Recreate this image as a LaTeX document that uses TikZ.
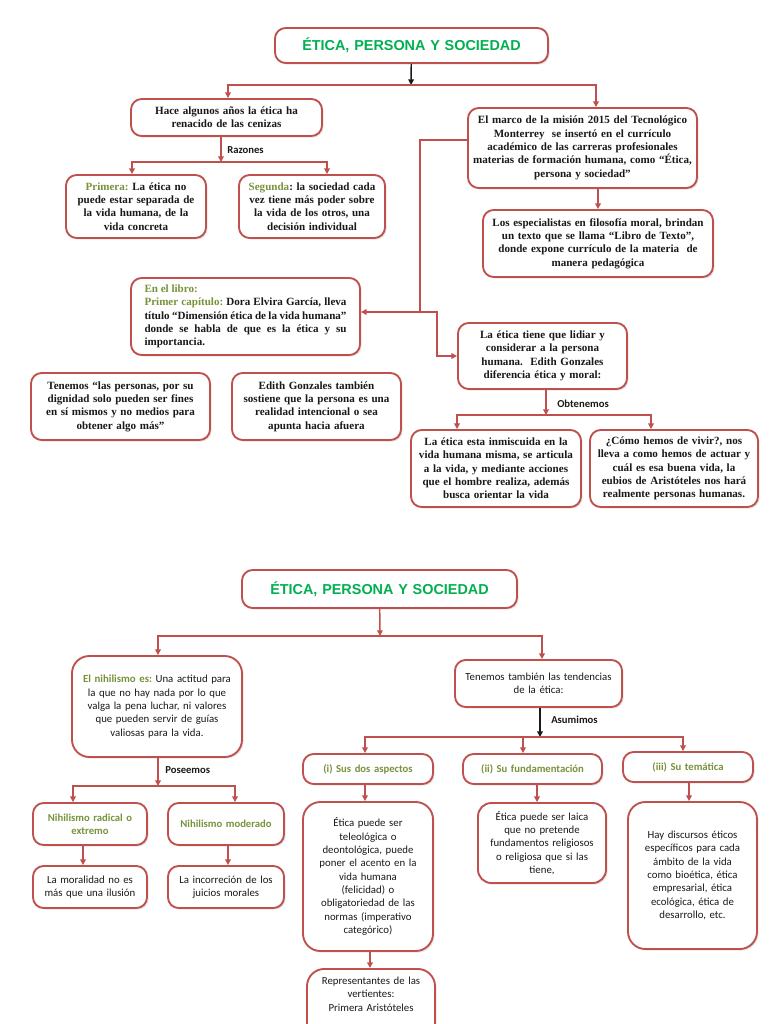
\documentclass[tikz,border=0pt]{standalone}
\usepackage{fontspec}
\setmainfont{Liberation Serif}
\newfontfamily\calib{Carlito}
\newfontfamily\arialf{Liberation Sans}
\usetikzlibrary{arrows.meta,shadows}
\definecolor{brd}{RGB}{192,80,77}
\definecolor{ttl}{RGB}{0,176,80}
\definecolor{olv}{RGB}{119,147,60}
\definecolor{ink}{RGB}{25,25,25}
\frenchspacing
\tikzset{
  spot/.style n args={4}{/utils/exec={\pgfmathsetlengthmacro\boxtw{(#3-#1-6)*0.75pt}},
    text width=\boxtw,minimum width={(#3-#1)*0.75pt},minimum height={(#4-#2)*0.75pt},
    at={({(#1+#3)/2},{(#2+#4)/2})}},
  box/.style={draw=brd,line width=1.4pt,rounded corners=8pt,fill=white,inner sep=0pt,
    align=center,text=ink,font=\fontsize{8.3}{10}\selectfont\bfseries,
    drop shadow={shadow xshift=1.2pt,shadow yshift=-1.2pt,opacity=0.2}},
  sbox/.style={box,font=\calib\fontsize{8.1}{10}\selectfont},
  big/.style={rounded corners=13pt},
  head/.style={box,font=\arialf\bfseries\fontsize{10.8}{13}\selectfont,text=ttl},
  tag/.style={sbox,font=\calib\bfseries\fontsize{8}{10}\selectfont,text=olv},
  con/.style={draw=brd,line width=1.1pt,-{Triangle[length=4.2pt,width=4.2pt]}},
  bar/.style={draw=brd,line width=1.1pt},
  blk/.style={con,draw=ink},
  lbl/.style={font=\calib\bfseries\fontsize{8}{10}\selectfont,text=ink,anchor=west,inner sep=0pt},
}
\newcommand{\hl}[1]{\textcolor{olv}{#1}}

\begin{document}
\begin{tikzpicture}[x=0.75pt,y=-0.75pt]
  \useasboundingbox[fill=white] (0,0) rectangle (768,1024);

  % first map
  \node[head,spot={275}{28}{548}{63}] (t1) {ÉTICA, PERSONA Y SOCIEDAD};
  \node[box,spot={131}{99}{322}{136}] (hace) {Hace algunos años la ética ha\\renacido de las cenizas};
  \node[box,spot={468}{108}{697}{188}] (marco)
    {El marco de la misión 2015 del Tecnológico\\Monterrey\ \ se insertó en el currículo\\académico de las carreras profesionales\\materias de formación humana, como “Ética,\\persona y sociedad”};
  \node[box,spot={66}{175}{206}{238}] (primera)
    {\hl{Primera:} La ética no\\puede estar separada de\\la vida humana, de la\\vida concreta};
  \node[box,spot={239}{175}{385}{238}] (segunda)
    {\hl{Segunda}: la sociedad cada\\vez tiene más poder sobre\\la vida de los otros, una\\decisión individual};
  \node[box,spot={483}{210}{713}{277}] (especial)
    {Los especialistas en filosofía moral, brindan\\un texto que se llama “Libro de Texto”,\\donde expone currículo de la materia\ \ de\\manera pedagógica};
  \node[box,spot={131}{278}{360}{355},text width=151.5pt,align=justify] (libro)
    {\hl{En el libro:}\\\hl{Primer capítulo:} Dora Elvira García, lleva\linebreak título “Dimensión ética de la vida humana”\linebreak donde se habla de que es la ética y su\linebreak importancia.};
  \node[box,spot={31}{373}{210}{440}] (tenemos)
    {Tenemos “las personas, por su\\dignidad solo pueden ser fines\\en sí mismos y no medios para\\obtener algo más”};
  \node[box,spot={232}{373}{401}{440}] (edith)
    {Edith Gonzales también\\sostiene que la persona es una\\realidad intencional o sea\\apunta hacia afuera};
  \node[box,spot={458}{323}{627}{389}] (lidiar)
    {La ética tiene que lidiar y\\considerar a la persona\\humana.\ \ Edith Gonzales\\diferencia ética y moral:};
  \node[box,spot={411}{430}{581}{507}] (inmisc)
    {La ética esta inmiscuida en la\\vida humana misma, se articula\\a la vida, y mediante acciones\\que el hombre realiza, además\\busca orientar la vida};
  \node[box,spot={590}{430}{758}{507}] (vivir)
    {¿Cómo hemos de vivir?, nos\\lleva a como hemos de actuar y\\cuál es esa buena vida, la\\eubios de Aristóteles nos hará\\realmente personas humanas.};

  \coordinate (j1) at (411,85);
  \coordinate (j2) at (221,162);
  \coordinate (j3) at (546,415);
  \coordinate (k1) at (420,312);
  \draw[blk] (t1) -- (j1);
  \draw[con] (j2 |- hace.south) -- (j2);
  \draw[con] (j3 |- lidiar.south) -- (j3);
  \node[lbl] (l1) at (227,150) {Razones};
  \node[lbl] (l2) at (557,404) {Obtenemos};
  \foreach \x/\j/\b in {228/j1/hace,596/j1/marco,132/j2/primera,327/j2/segunda,
                        457/j3/inmisc,651/j3/vivir}
    \draw[con] (\j) -| (\x,0 |- \b.north);
  \draw[con] (especial.north |- marco.south) -- (especial);
  \draw[bar] (marco.west |- 0,140) -| (k1);
  \draw[con] (k1) -- (k1 -| libro.east);
  \draw[con] (k1) -- (437,312) |- (lidiar.west);

  % second map
  \node[head,spot={242}{570}{517}{608}] (t2) {ÉTICA, PERSONA Y SOCIEDAD};
  \node[sbox,big,spot={72}{656}{242}{757}] (nihil)
    {\hl{\textbf{El nihilismo es:}} Una actitud para\\la que no hay nada por lo que\\valga la pena luchar, ni valores\\que pueden servir de guías\\valiosas para la vida.};
  \node[sbox,spot={455}{660}{622}{707}] (tamb) {Tenemos también las tendencias\\de la ética:};
  \node[tag,spot={33}{803}{147}{845}] (radical) {Nihilismo radical o\\extremo};
  \node[tag,spot={168}{803}{284}{845}] (moder) {Nihilismo moderado};
  \node[sbox,spot={33}{866}{147}{908}] (moral) {La moralidad no es\\más que una ilusión};
  \node[sbox,spot={168}{866}{284}{908}] (incorr) {La incorreción de los\\juicios morales};
  \node[tag,spot={303}{754}{433}{784}] (asp) {(i) Sus dos aspectos};
  \node[tag,spot={463}{754}{602}{784}] (fund) {(ii) Su fundamentación};
  \node[tag,spot={623}{752}{753}{782}] (tema) {(iii) Su temática};
  \node[sbox,big,spot={303}{802}{433}{951}] (aspT)
    {Ética puede ser\\teleológica o\\deontológica, puede\\poner el acento en la\\vida humana\\(felicidad) o\\obligatoriedad de las\\normas (imperativo\\categórico)};
  \node[sbox,spot={478}{803}{606}{883},rounded corners=10pt] (fundT)
    {Ética puede ser laica\\que no pretende\\fundamentos religiosos\\o religiosa que si las\\tiene,};
  \node[sbox,big,spot={628}{802}{757}{949}] (temaT)
    {Hay discursos éticos\\específicos para cada\\ámbito de la vida\\como bioética, ética\\empresarial, ética\\ecológica, ética de\\desarrollo, etc.};
  \node[sbox,big,anchor=north,minimum width=96pt,text width=92pt,inner ysep=6pt,text depth=40pt] (repr)
    at (371,968) {Representantes de las\\vertientes:\\Primera Aristóteles};

  \coordinate (j4) at (380,636);
  \coordinate (j5) at (158,786);
  \coordinate (j6) at (540,737);
  \draw[con] (t2) -- (j4);
  \draw[con] (j5 |- nihil.south) -- (j5);
  \draw[blk] (j6 |- tamb.south) -- (j6);
  \node[lbl] (l3) at (165,770) {Poseemos};
  \node[lbl] (l4) at (551,720) {Asumimos};
  \foreach \x/\j/\b in {158/j4/nihil,542/j4/tamb,73/j5/radical,235/j5/moder,
                        365/j6/asp,523/j6/fund,683/j6/tema}
    \draw[con] (\j) -| (\x,0 |- \b.north);
  \foreach \x/\a/\b in {83/radical/moral,228/moder/incorr,365/asp/aspT,
                        537/fund/fundT,689/tema/temaT,370/aspT/repr}
    \draw[con] (\x,0 |- \a.south) -- (\x,0 |- \b.north);
\end{tikzpicture}
\end{document}
